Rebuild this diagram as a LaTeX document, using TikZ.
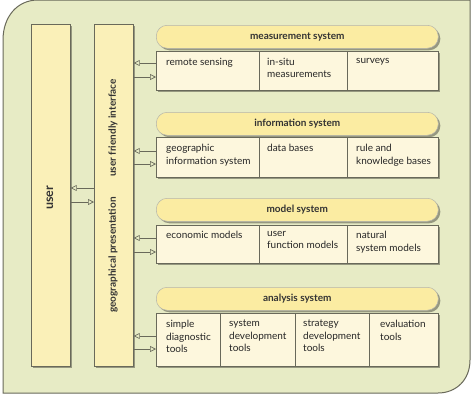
\documentclass[tikz,border=0pt]{standalone}
\usepackage{fontspec}
\setmainfont{Lato}
\usetikzlibrary{arrows.meta,shadows}

\definecolor{bgfill}{RGB}{231,235,197}
\definecolor{colfill}{RGB}{250,240,184}
\definecolor{pillfill}{RGB}{251,236,162}
\definecolor{cellfill}{RGB}{253,247,221}
\definecolor{linec}{RGB}{105,105,90}

\tikzset{
	shade/.style={drop shadow={shadow xshift=2pt,shadow yshift=-2pt,fill=black,opacity=0.35}},
	colbox/.style={draw=linec,fill=colfill,line width=0.7pt,shade,anchor=north west,inner sep=0pt},
	pill/.style={draw=linec!50,fill=pillfill,line width=0.5pt,rounded corners=11pt,shade,anchor=north west,inner sep=0pt},
	rowbox/.style={draw=linec,fill=cellfill,line width=0.7pt,shade,anchor=north west,inner sep=0pt},
	head/.style={font=\fontsize{10}{12}\selectfont\bfseries,text=black!80},
	celltext/.style={anchor=north west,align=left,font=\fontsize{10}{12.5}\selectfont,inner sep=0pt,text=black!85},
	coltext/.style={rotate=90,font=\fontsize{10}{12}\selectfont\bfseries,text=black!80},
	arr/.style={draw=linec,line width=0.7pt,-{Triangle[open,length=6pt,width=6pt]}}
}

\newcommand{\cellsep}[2]{
	\draw[draw=linec,line width=0.7pt] (#1.north west -| #2,0) -- (#1.south west -| #2,0);
}

\begin{document}
\begin{tikzpicture}[x=1pt,y=-1pt]
\useasboundingbox (0,0) rectangle (474,402);
\fill[white] (0,0) rectangle (474,402);
\draw[draw=linec,fill=bgfill,line width=1pt] (470,0) -- (38,0) .. controls (17,0) and (3,17) .. (3,40) -- (3,393) -- (438,393) .. controls (456,393) and (470,380) .. (470,360) -- cycle;

\pgfmathsetmacro{\grpx}{156}
\pgfmathsetmacro{\grpw}{282}

\node[colbox,minimum width=39pt,minimum height=342pt] (user) at (31,24) {};
\node[colbox,minimum width=39pt,minimum height=342pt] (ifc) at (94,24) {};
\node[coltext,font=\fontsize{12.5}{14}\selectfont\bfseries] (userlbl) at (50,198) {user};
\node[coltext] (ifclbl) at (113,128) {user friendly interface};
\node[coltext] (geolbl) at (113,255) {geographical presentation};

\draw[arr] (ifc.west |- 0,188) -- (user.east |- 0,188);
\draw[arr] (user.east |- 0,202) -- (ifc.west |- 0,202);

\node[pill,minimum width=\grpw pt,minimum height=23pt] (meas) at (\grpx,25) {};
\node[head] at (meas.center) {measurement system};
\node[rowbox,minimum width=\grpw pt,minimum height=39pt] (measrow) at (\grpx,51) {};
\cellsep{measrow}{259}
\cellsep{measrow}{347}
\node[celltext] (remote) at (166,58) {remote sensing};
\node[celltext] (insitu) at (267,58) {in-situ\\measurements};
\node[celltext] (surveys) at (356,58) {surveys};

\node[pill,minimum width=\grpw pt,minimum height=23pt] (info) at (\grpx,112) {};
\node[head] at (info.center) {information system};
\node[rowbox,minimum width=\grpw pt,minimum height=40pt] (inforow) at (\grpx,137) {};
\cellsep{inforow}{259}
\cellsep{inforow}{347}
\node[celltext] (gis) at (166,144) {geographic\\information system};
\node[celltext] (dbases) at (267,144) {data bases};
\node[celltext] (kbases) at (356,144) {rule and\\knowledge bases};

\node[pill,minimum width=\grpw pt,minimum height=23pt] (model) at (\grpx,198) {};
\node[head] at (model.center) {model system};
\node[rowbox,minimum width=\grpw pt,minimum height=38pt] (modelrow) at (\grpx,225) {};
\cellsep{modelrow}{259}
\cellsep{modelrow}{347}
\node[celltext] (econ) at (166,231) {economic models};
\node[celltext] (ufunc) at (267,231) {user\\function models};
\node[celltext] (natsys) at (356,231) {natural\\system models};

\node[pill,minimum width=\grpw pt,minimum height=23pt] (anal) at (\grpx,287) {};
\node[head] at (anal.center) {analysis system};
\node[rowbox,minimum width=\grpw pt,minimum height=53pt] (analrow) at (\grpx,313) {};
\cellsep{analrow}{220}
\cellsep{analrow}{295}
\cellsep{analrow}{369}
\node[celltext] (diag) at (166,320) {simple\\diagnostic\\tools};
\node[celltext] (sysdev) at (229,320) {system\\development\\tools};
\node[celltext] (stratdev) at (303,320) {strategy\\development\\tools};
\node[celltext] (evaltools) at (380,320) {evaluation\\tools};

\draw[arr] (measrow.west |- 0,63) -- (ifc.east |- 0,63);
\draw[arr] (ifc.east |- 0,77) -- (measrow.west |- 0,77);
\draw[arr] (inforow.west |- 0,151) -- (ifc.east |- 0,151);
\draw[arr] (ifc.east |- 0,164) -- (inforow.west |- 0,164);
\draw[arr] (modelrow.west |- 0,238) -- (ifc.east |- 0,238);
\draw[arr] (ifc.east |- 0,252) -- (modelrow.west |- 0,252);
\draw[arr] (analrow.west |- 0,336) -- (ifc.east |- 0,336);
\draw[arr] (ifc.east |- 0,349) -- (analrow.west |- 0,349);
\end{tikzpicture}
\end{document}
